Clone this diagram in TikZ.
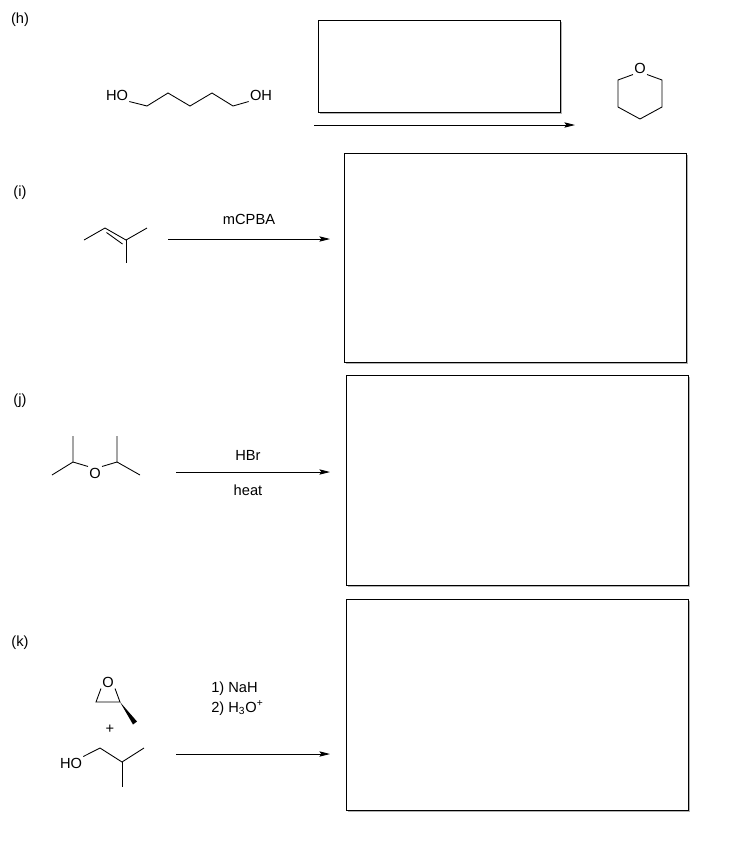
\documentclass[tikz,border=0pt]{standalone}
\usepackage{fontspec}
\setmainfont{Liberation Sans}
\usetikzlibrary{arrows.meta,calc}
\begin{document}
\begin{tikzpicture}[x=0.75pt,y=-0.75pt,
  bond/.style={line width=0.65pt,line join=miter},
  lbl/.style={inner sep=0pt,font=\fontsize{11}{13}\selectfont},
  atom/.style={inner sep=0.8pt,font=\fontsize{11}{13}\selectfont},
  ansbox/.style={draw=black,line width=0.6pt,fill=white},
  arr/.style={line width=0.65pt,-{Stealth[length=8pt,width=4pt,inset=1.5pt]}}]
\useasboundingbox (0,0) rectangle (750,850);
% labels
\node[lbl] (lh) at (20,20) {(h)};
\node[lbl] (li) at (20,193) {(i)};
\node[lbl] (lj) at (20,401) {(j)};
\node[lbl] (lk) at (20,643) {(k)};
% boxes with shadow
\foreach \n/\a/\b/\c/\d in {bh/318/20/560/112, bi/344/153/686/362, bj/346/375/688/585, bk/346/599/688/810}{
  \fill[gray!60] (\a+2,\b+2) rectangle (\c+2,\d+2);
  \draw[ansbox] (\a,\b) rectangle (\c,\d);
}
% (h)
\node[atom] (ho1) at (117,95) {HO};
\node[atom] (oh1) at (261,95) {OH};
\coordinate (c1) at (147,106); \coordinate (c2) at (168,93); \coordinate (c3) at (190,106);
\coordinate (c4) at (212,93); \coordinate (c5) at (233,106);
\draw[bond] (ho1.south east) -- (c1) -- (c2) -- (c3) -- (c4) -- (c5) -- (oh1.south west);
\coordinate (ha) at (314,125); \coordinate (hb) at (575,125);
\draw[arr] (ha) -- (hb);
\node[atom] (oth) at (640,68) {O};
\coordinate (r1) at (618,80); \coordinate (r2) at (618,107); \coordinate (r3) at (640,119);
\coordinate (r4) at (662,107); \coordinate (r5) at (662,80);
\draw[bond] (oth.south west) -- (r1) -- (r2) -- (r3) -- (r4) -- (r5) -- (oth.south east);
% (i)
\coordinate (a1) at (84,240); \coordinate (a2) at (105,228); \coordinate (a3) at (126,240);
\coordinate (a4) at (147,228); \coordinate (a5) at (126,263);
\draw[bond] (a1) -- (a2) -- (a3) -- (a4); \draw[bond] (a3) -- (a5);
\draw[bond] ($(a2)+(1.5,4.5)$) -- ($(a3)+(-3.5,4)$);
\node[lbl] (mc) at (249,219) {mCPBA};
\coordinate (ia) at (168,239); \coordinate (ib) at (330,239);
\draw[arr] (ia) -- (ib);
% (j)
\node[atom] (oj) at (95,473) {O};
\coordinate (j1) at (73,436); \coordinate (j2) at (73,462); \coordinate (j3) at (52,475);
\coordinate (j4) at (117,462); \coordinate (j5) at (117,436); \coordinate (j6) at (140,475);
\draw[bond] (j1) -- (j2) -- (j3); \draw[bond] (j2) -- (oj.north west);
\draw[bond] (oj.north east) -- (j4) -- (j5); \draw[bond] (j4) -- (j6);
\node[lbl] (hbr) at (248,455) {HBr};
\node[lbl] (heat) at (248,490) {heat};
\coordinate (ja) at (176,472); \coordinate (jb) at (330,472);
\draw[arr] (ja) -- (jb);
% (k)
\node[atom] (ok) at (108,682) {O};
\coordinate (e1) at (96,702); \coordinate (e2) at (120,702); \coordinate (e3) at (135,723);
\draw[bond] (ok.south west) -- (e1) -- (e2) -- (ok.south east);
\fill (e2) -- ($(e3)+(2,-1.5)$) -- ($(e3)+(-2,1.5)$) -- cycle;
\node[lbl] (plus) at (110,729) {+};
\node[atom] (hok) at (71,763) {HO};
\coordinate (k1) at (100,748); \coordinate (k2) at (122,762); \coordinate (k3) at (144,748); \coordinate (k4) at (122,787);
\draw[bond] (hok.north east) -- (k1) -- (k2) -- (k3); \draw[bond] (k2) -- (k4);
\node[lbl,anchor=west] (nah) at (211,689) {1) NaH};
\node[lbl,anchor=west] (h3o) at (211,708) {2) H\textsubscript{3}O\textsuperscript{+}};
\coordinate (ka) at (176,754); \coordinate (kb) at (330,754);
\draw[arr] (ka) -- (kb);
\end{tikzpicture}
\end{document}
